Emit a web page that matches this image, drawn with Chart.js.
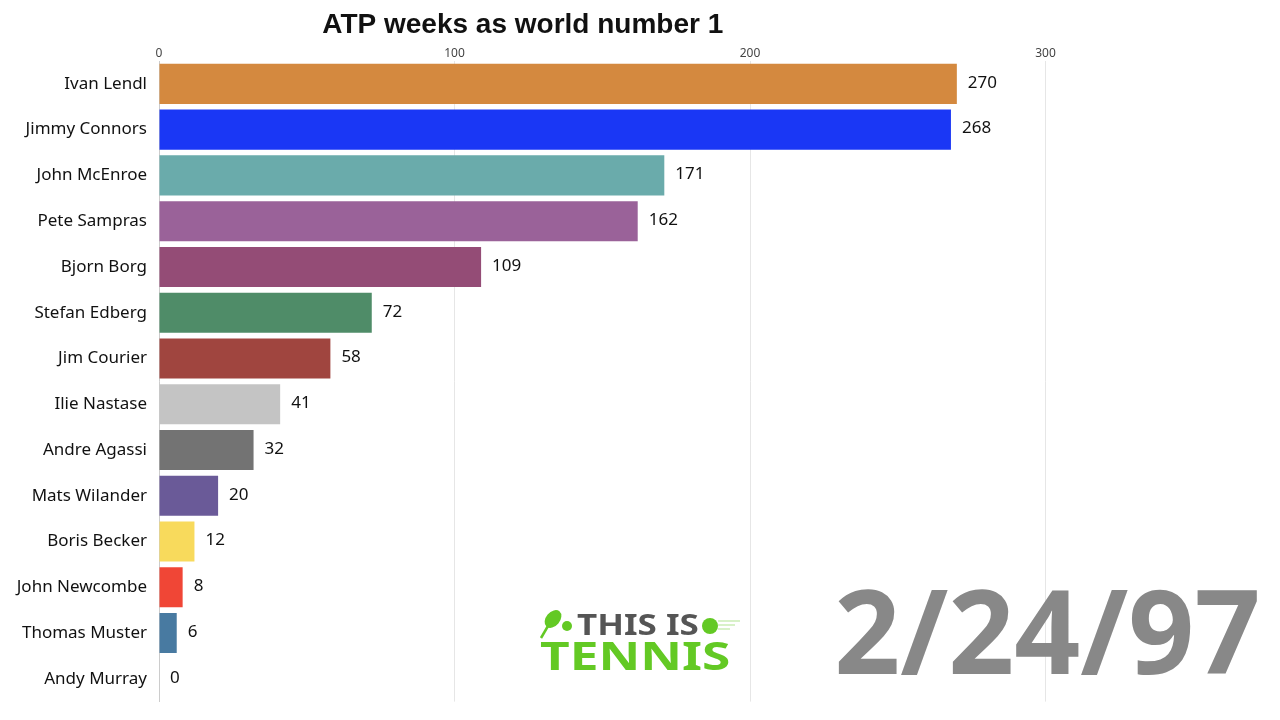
<!DOCTYPE html>
<html>
<head>
<meta charset="utf-8">
<style>html,body{margin:0;padding:0;background:#fff;overflow:hidden}canvas{display:block}</style>
<script src="https://cdn.jsdelivr.net/npm/chart.js@4/dist/chart.umd.min.js"></script>
</head>
<body>
<canvas id="c" width="1280" height="720"></canvas>
<script>
const players = ["Ivan Lendl","Jimmy Connors","John McEnroe","Pete Sampras","Bjorn Borg","Stefan Edberg","Jim Courier","Ilie Nastase","Andre Agassi","Mats Wilander","Boris Becker","John Newcombe","Thomas Muster","Andy Murray"];
const weeks = [270,268,171,162,109,72,58,41,32,20,12,8,6,0];
const colors = ["#D4893F","#1A37F5","#6AABAB","#9A6299","#944C76","#4F8C68","#A0453F","#C4C4C4","#737373","#6A5A98","#F8DA5C","#F04636","#487AA1","#999999"];
const dateLabel = "2/24/97";
const titleText = "ATP weeks as world number 1";
const logoTop = "THIS IS";
const logoBottom = "TENNIS";
const LABEL_FONT = '"Noto Sans"';

function fitText(ctx, text, x, y, w, h, font, color){
  ctx.save();
  ctx.font = font;
  ctx.fillStyle = color;
  ctx.textAlign = "left";
  ctx.textBaseline = "alphabetic";
  const m = ctx.measureText(text);
  const tw = m.actualBoundingBoxRight + m.actualBoundingBoxLeft;
  const th = m.actualBoundingBoxAscent + m.actualBoundingBoxDescent;
  ctx.translate(x, y);
  ctx.scale(w / tw, h / th);
  ctx.fillText(text, m.actualBoundingBoxLeft, m.actualBoundingBoxAscent);
  ctx.restore();
}

const overlay = {
  id: "overlay",
  afterDatasetsDraw(chart){
    const ctx = chart.ctx, xs = chart.scales.x, ys = chart.scales.y;
    ctx.save();
    ctx.font = "17px " + LABEL_FONT;
    ctx.fillStyle = "#111";
    ctx.textAlign = "left";
    ctx.textBaseline = "middle";
    weeks.forEach((v, i) => {
      ctx.fillText(String(v), xs.getPixelForValue(v) + 11, ys.getPixelForValue(i) - 1);
    });
    ctx.restore();

    // big date
    fitText(ctx, dateLabel, 838, 589, 419, 86, "bold 120px " + LABEL_FONT, "#888888");

    // logo
    fitText(ctx, logoTop, 577, 615, 121, 20, "bold 40px " + LABEL_FONT, "#555555");
    fitText(ctx, logoBottom, 540, 642, 189, 28, "bold 40px " + LABEL_FONT, "#63C924");
    ctx.save();
    ctx.fillStyle = "#63C924";
    ctx.strokeStyle = "#63C924";
    ctx.beginPath(); ctx.ellipse(553, 619, 7, 10, 0.7, 0, Math.PI * 2); ctx.fill();
    ctx.lineWidth = 2.5;
    ctx.beginPath(); ctx.moveTo(548, 626); ctx.lineTo(541, 638); ctx.stroke();
    ctx.beginPath(); ctx.arc(567, 626, 5, 0, Math.PI * 2); ctx.fill();
    ctx.beginPath(); ctx.arc(710, 626, 8, 0, Math.PI * 2); ctx.fill();
    ctx.lineWidth = 1;
    ctx.globalAlpha = 0.5;
    [621, 625, 629].forEach((y, i) => {
      ctx.beginPath(); ctx.moveTo(718, y); ctx.lineTo(740 - i * 5, y); ctx.stroke();
    });
    ctx.restore();
  }
};

new Chart(document.getElementById("c"), {
  type: "bar",
  data: {
    labels: players,
    datasets: [{ data: weeks, backgroundColor: colors, barPercentage: 0.875, categoryPercentage: 1 }]
  },
  options: {
    indexAxis: "y",
    responsive: false,
    animation: false,
    layout: { padding: { left: 0, right: 234.5, top: 0, bottom: 18.4 } },
    plugins: {
      legend: { display: false },
      tooltip: { enabled: false },
      title: {
        display: true, text: titleText, color: "#111",
        font: { family: '"Liberation Sans"', size: 28, weight: "bold", lineHeight: 1.2 },
        padding: { top: 8, bottom: 0 }
      }
    },
    scales: {
      x: {
        position: "top", min: 0, max: 300,
        afterFit(s){ s.height = 61 - 41.6; },
        ticks: { stepSize: 100, maxRotation: 0, padding: 0, color: "#444", font: { family: LABEL_FONT, size: 12 } },
        grid: { color: "#e6e6e6", drawTicks: false, lineWidth: 1 },
        border: { display: false }
      },
      y: {
        afterFit(s){ s.width = 159; },
        ticks: { padding: 4, color: "#111", autoSkip: false, font: { family: LABEL_FONT, size: 17 } },
        grid: { display: false },
        border: { display: true, color: "#cccccc" }
      }
    }
  },
  plugins: [overlay]
});
</script>
</body>
</html>
